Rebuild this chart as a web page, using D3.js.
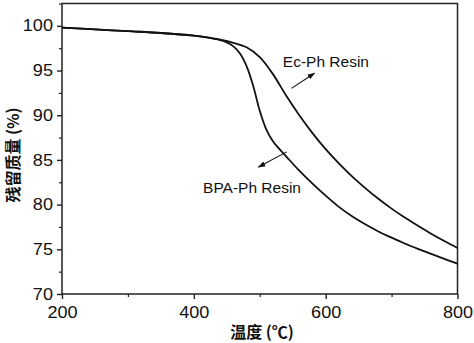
<!DOCTYPE html>
<html>
<head>
<meta charset="utf-8">
<script src="https://cdn.jsdelivr.net/npm/d3@7"></script>
<style>
  html, body { margin: 0; padding: 0; background: #fff; }
  svg { display: block; }
  .tick text { font-family: "Liberation Sans", Arial, sans-serif; font-size: 16px; fill: #111; }
  .cjk { font-family: "Noto Sans CJK SC", sans-serif; font-weight: 700; fill: #111; }
  .note { font-family: "Liberation Sans", Arial, sans-serif; font-size: 15.5px; fill: #111; }
</style>
</head>
<body>
<svg id="chart" width="474" height="343"></svg>
<script>
// TGA residual mass (%) versus temperature (°C)
const temperatureEc = [200, 250, 300, 350, 400, 420, 440, 460, 480, 500, 520, 540, 560, 580, 600, 620, 640, 660, 680, 700, 720, 740, 760, 780, 800];
const massEc        = [99.8, 99.6, 99.4, 99.2, 98.9, 98.7, 98.45, 98.1, 97.6, 96.5, 94.6, 92.2, 90.0, 88.0, 86.2, 84.6, 83.15, 81.85, 80.65, 79.55, 78.55, 77.63, 76.75, 75.93, 75.15];

const temperatureBPA = [200, 250, 300, 350, 400, 420, 440, 450, 460, 470, 480, 490, 500, 510, 520, 530, 540, 560, 580, 600, 620, 640, 660, 680, 700, 720, 740, 760, 780, 800];
const massBPA        = [99.8, 99.6, 99.4, 99.2, 98.9, 98.7, 98.4, 98.15, 97.7, 96.9, 95.5, 93.3, 90.5, 88.4, 87.1, 86.2, 85.4, 83.8, 82.35, 81.0, 79.75, 78.7, 77.8, 77.0, 76.3, 75.65, 75.05, 74.48, 73.93, 73.4];

const seriesNames = ["Ec-Ph Resin", "BPA-Ph Resin"];
const xTicks = [200, 400, 600, 800];
const xMinorTicks = [300, 500, 700];
const yTicks = [70, 75, 80, 85, 90, 95, 100];
const yMinorTicks = [72.5, 77.5, 82.5, 87.5, 92.5, 97.5, 102.5];
const xTitle = "温度 (℃)";
const yTitle = "残留质量 (%)";

const svg = d3.select("#chart");
const plotLeft = 62, plotRight = 457.5, plotTop = 3.5, plotBottom = 294;

const x = d3.scaleLinear().domain([200, 800]).range([plotLeft, plotRight]);
const y = d3.scaleLinear().domain([70, 102.5]).range([plotBottom, plotTop]);

// minor ticks
svg.append("g").attr("transform", `translate(0,${plotBottom})`)
  .call(d3.axisBottom(x).tickValues(xMinorTicks).tickSize(3).tickFormat(""))
  .call(g => g.select(".domain").remove())
  .call(g => g.selectAll("line").attr("stroke", "#222").attr("stroke-width", 1.2));
svg.append("g").attr("transform", `translate(${plotLeft},0)`)
  .call(d3.axisLeft(y).tickValues(yMinorTicks).tickSize(3).tickFormat(""))
  .call(g => g.select(".domain").remove())
  .call(g => g.selectAll("line").attr("stroke", "#222").attr("stroke-width", 1.2));

// major axes
svg.append("g").attr("transform", `translate(0,${plotBottom})`)
  .call(d3.axisBottom(x).tickValues(xTicks).tickSize(5).tickSizeOuter(0).tickPadding(8))
  .call(g => g.select(".domain").remove())
  .call(g => g.selectAll("line").attr("stroke", "#222").attr("stroke-width", 1.4))
  .call(g => g.selectAll("text").attr("transform", "scale(1.13,1)"));
svg.append("g").attr("transform", `translate(${plotLeft},0)`)
  .call(d3.axisLeft(y).tickValues(yTicks).tickSize(5).tickSizeOuter(0).tickPadding(3))
  .call(g => g.select(".domain").remove())
  .call(g => g.selectAll("line").attr("stroke", "#222").attr("stroke-width", 1.4))
  .call(g => g.selectAll("text").attr("transform", "scale(1.13,1)"));

// frame
svg.append("rect")
  .attr("x", plotLeft).attr("y", plotTop)
  .attr("width", plotRight - plotLeft).attr("height", plotBottom - plotTop)
  .attr("fill", "none").attr("stroke", "#222").attr("stroke-width", 1.5);

// curves
const line = d3.line().x(d => x(d[0])).y(d => y(d[1])).curve(d3.curveCatmullRom.alpha(0.5));
const dataEc = temperatureEc.map((t, i) => [t, massEc[i]]);
const dataBPA = temperatureBPA.map((t, i) => [t, massBPA[i]]);
[dataEc, dataBPA].forEach(d => {
  svg.append("path").datum(d).attr("d", line)
    .attr("fill", "none").attr("stroke", "#111").attr("stroke-width", 1.8);
});

// arrow annotations
svg.append("defs").append("marker")
  .attr("id", "head").attr("viewBox", "0 0 10 10")
  .attr("refX", 9).attr("refY", 5)
  .attr("markerWidth", 7).attr("markerHeight", 7)
  .attr("orient", "auto")
  .append("path").attr("d", "M0,1.5 L10,5 L0,8.5 Z").attr("fill", "#111");

function arrow(t0, v0, t1, v1) {
  svg.append("line")
    .attr("x1", x(t0)).attr("y1", y(v0)).attr("x2", x(t1)).attr("y2", y(v1))
    .attr("stroke", "#111").attr("stroke-width", 1.1)
    .attr("marker-end", "url(#head)");
}
arrow(548, 93.0, 583, 94.7);
arrow(541, 85.9, 498, 84.2);

svg.append("text").attr("class", "note")
  .attr("x", x(535)).attr("y", y(95.35)).text(seriesNames[0]);
svg.append("text").attr("class", "note")
  .attr("x", x(414)).attr("y", y(81.35)).text(seriesNames[1]);

// titles
svg.append("text").attr("class", "cjk")
  .attr("x", 262).attr("y", 338)
  .attr("text-anchor", "middle").attr("font-size", 16).text(xTitle);
svg.append("text").attr("class", "cjk")
  .attr("transform", `translate(19,155) rotate(-90)`)
  .attr("text-anchor", "middle").attr("font-size", 16).text(yTitle);
</script>
</body>
</html>
